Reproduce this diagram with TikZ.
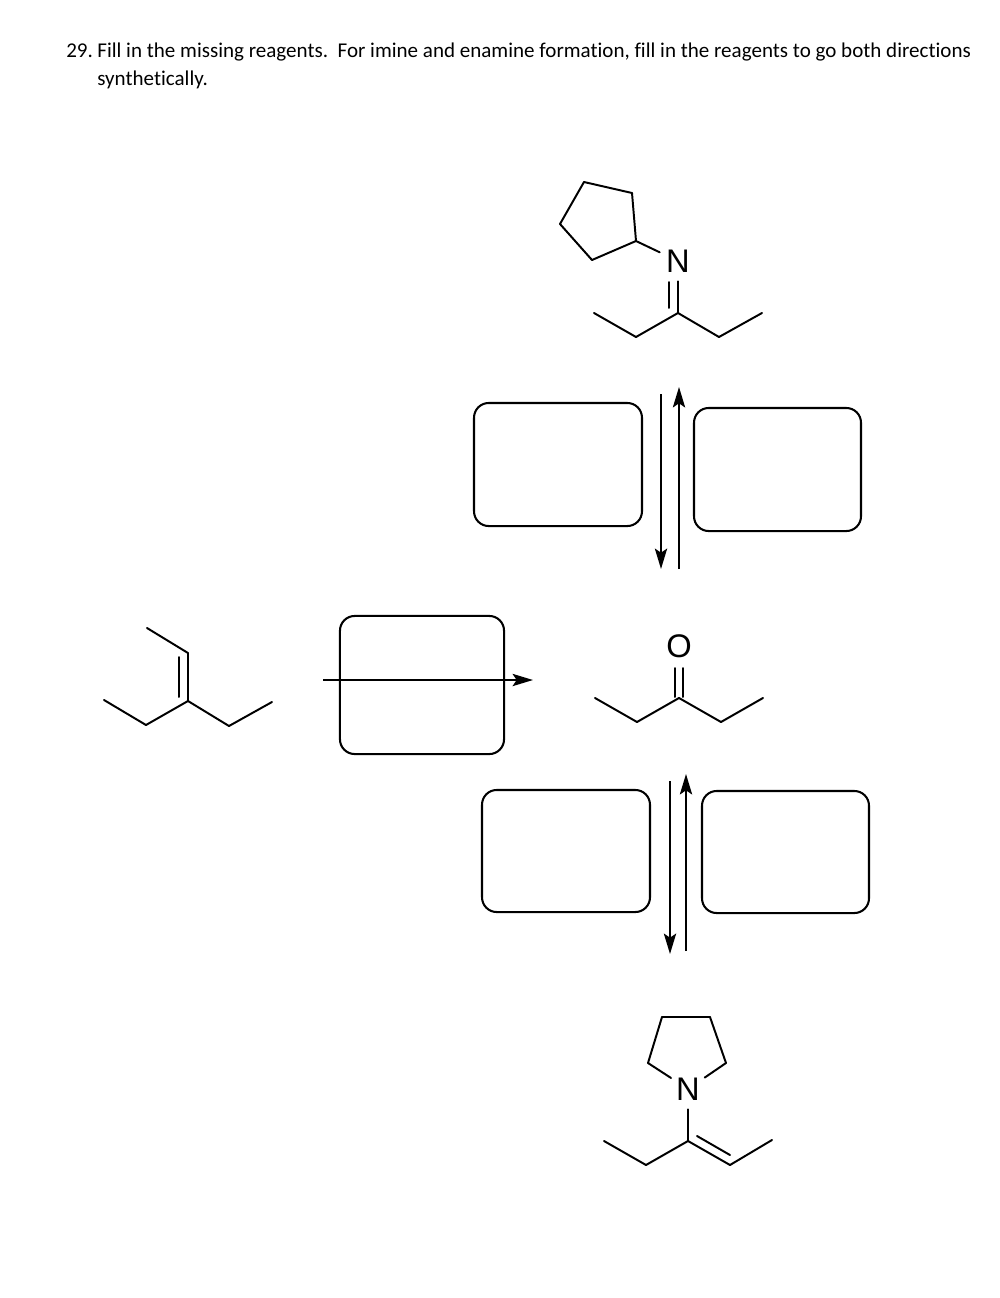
\documentclass[tikz,border=0pt]{standalone}
\usepackage{fontspec}
\setmainfont[Ligatures=NoCommon]{Carlito}
\newfontfamily\atomfont{Liberation Sans}
\usetikzlibrary{arrows.meta}
\tikzset{
  reagentbox/.style={draw,rounded corners=9pt,line width=1.25pt,inner sep=0pt},
  atom/.style={circle,inner sep=1.6pt,font=\atomfont\fontsize{20}{20}\selectfont},
  reaction/.style={draw,line width=1.2pt,-{Stealth[length=12.5pt,width=7.5pt,inset=2.5pt]}},
  question/.style={anchor=base west,inner sep=0pt,font=\fontsize{12.88}{15}\selectfont}
}
\begin{document}
\begin{tikzpicture}[x=0.612pt,y=-0.612pt]
  \useasboundingbox (0,0) rectangle (1000,1298);

  \node[question] (line1) at (66,57) {\makebox[19pt][l]{29.}Fill in the missing reagents.\ \ For imine and enamine formation, fill in the reagents to go both directions};
  \node[question] (line2) at (97,85.5) {synthetically.};

  % reagent boxes
  \node[reagentbox,minimum width=102.8pt,minimum height=75.3pt] (box1) at (558,464.5) {};
  \node[reagentbox,minimum width=102.2pt,minimum height=75.3pt] (box2) at (777.5,469.5) {};
  \node[reagentbox,minimum width=100.4pt,minimum height=84.5pt] (box3) at (422,685) {};
  \node[reagentbox,minimum width=102.8pt,minimum height=74.7pt] (box4) at (566,851) {};
  \node[reagentbox,minimum width=102.2pt,minimum height=74.7pt] (box5) at (785.5,852) {};

  \begin{scope}[every node/.style={atom}]
    \node (iN) at (678,261) {N};
    \node (kO) at (679,646) {O};
    \node (eN) at (688,1089) {N};
  \end{scope}

  % imine
  \coordinate (i1) at (584,182);
  \coordinate (i2) at (632,193);
  \coordinate (i3) at (636,241);
  \coordinate (i4) at (592,260);
  \coordinate (i5) at (560,224);
  \coordinate (i6) at (594,313);
  \coordinate (i7) at (636,337);
  \coordinate (i8) at (678,313);
  \coordinate (i9) at (719,337);
  \coordinate (i10) at (762,313);
  \coordinate (i11) at (669,282);
  \coordinate (i12) at (669,308);

  % alkene
  \coordinate (a1) at (147,628);
  \coordinate (a2) at (188,653);
  \coordinate (a3) at (188,701);
  \coordinate (a4) at (104,700);
  \coordinate (a5) at (146,725);
  \coordinate (a6) at (229,726);
  \coordinate (a7) at (272,702);
  \coordinate (a8) at (179,657);
  \coordinate (a9) at (179,697);

  % ketone
  \coordinate (k1) at (595,698);
  \coordinate (k2) at (637,722);
  \coordinate (k3) at (679,698);
  \coordinate (k4) at (721,722);
  \coordinate (k5) at (763,698);
  \coordinate (k6) at (675,668);
  \coordinate (k7) at (675,697);
  \coordinate (k8) at (683,668);
  \coordinate (k9) at (683,697);

  % enamine
  \coordinate (e1) at (662,1017);
  \coordinate (e2) at (710,1017);
  \coordinate (e3) at (726,1063);
  \coordinate (e4) at (648,1063);
  \coordinate (e5) at (604,1141);
  \coordinate (e6) at (646,1165);
  \coordinate (e7) at (688,1141);
  \coordinate (e8) at (730,1165);
  \coordinate (e9) at (772,1140);
  \coordinate (e10) at (697,1136);
  \coordinate (e11) at (730,1155);

  \begin{scope}[every edge/.style={draw,line width=1.2pt,line cap=round}]
    \path (i1) edge (i2) (i2) edge (i3) (i3) edge (i4) (i4) edge (i5) (i5) edge (i1);
    \path (i3) edge (iN) (iN) edge (i8) (i11) edge (i12);
    \path (i6) edge (i7) (i7) edge (i8) (i8) edge (i9) (i9) edge (i10);

    \path (a1) edge (a2) (a2) edge (a3) (a8) edge (a9);
    \path (a4) edge (a5) (a5) edge (a3) (a3) edge (a6) (a6) edge (a7);

    \path (k1) edge (k2) (k2) edge (k3) (k3) edge (k4) (k4) edge (k5);
    \path (k6) edge (k7) (k8) edge (k9);

    \path (e1) edge (e2) (e2) edge (e3) (e3) edge (eN) (eN) edge (e4) (e4) edge (e1);
    \path (eN) edge (e7) (e5) edge (e6) (e6) edge (e7) (e7) edge (e8) (e8) edge (e9);
    \path (e10) edge (e11);
  \end{scope}

  % arrows
  \coordinate (r1) at (661,394);
  \coordinate (r2) at (661,569);
  \coordinate (r3) at (679,569);
  \coordinate (r4) at (679,387);
  \coordinate (r5) at (670,781);
  \coordinate (r6) at (670,954);
  \coordinate (r7) at (686,951);
  \coordinate (r8) at (686,774);
  \coordinate (r9) at (323,680);
  \coordinate (r10) at (533,680);

  \begin{scope}[every edge/.style={reaction}]
    \path (r1) edge (r2);
    \path (r3) edge (r4);
    \path (r5) edge (r6);
    \path (r7) edge (r8);
    \path (r9) edge (r10);
  \end{scope}

\end{tikzpicture}
\end{document}
